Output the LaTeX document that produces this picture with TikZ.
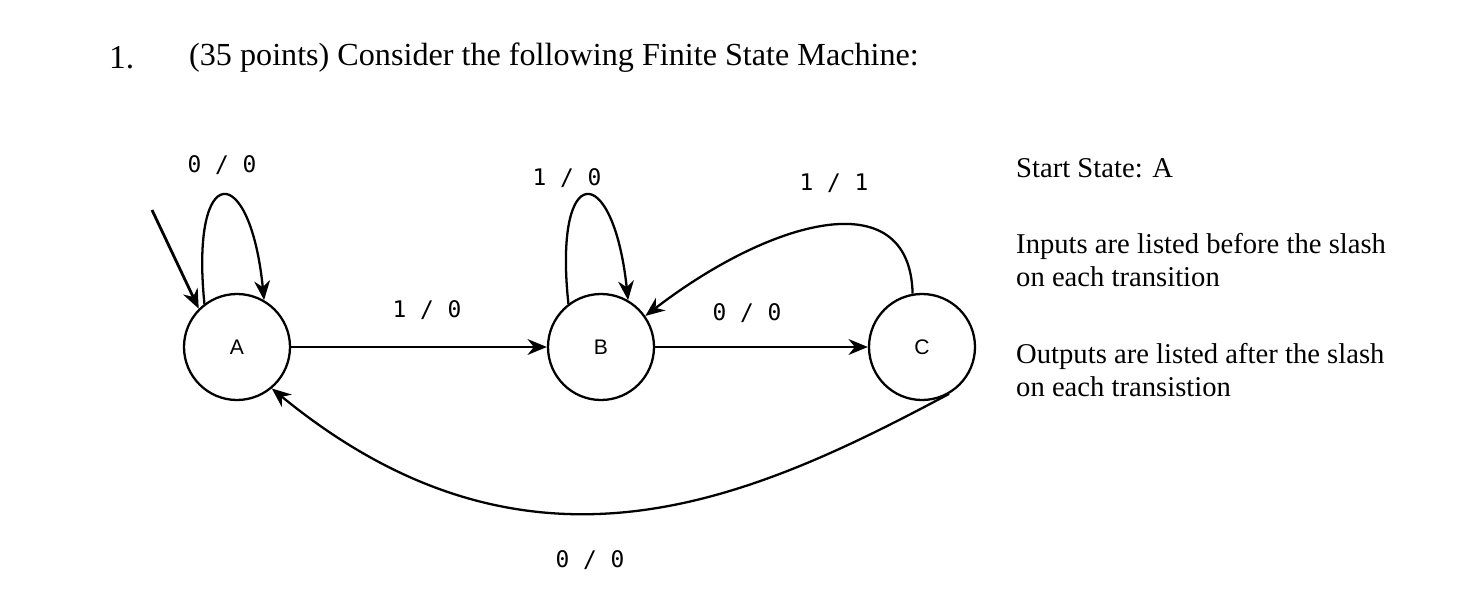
\documentclass[tikz,border=0pt]{standalone}
\usepackage{fontspec}
\setmainfont{Liberation Serif}
\newfontfamily\monof{DejaVu Sans Mono}
\newfontfamily\sansf{Liberation Sans}
\usetikzlibrary{arrows.meta}
\begin{document}
\begin{tikzpicture}[x=0.02cm,y=-0.02cm,
  st/.style={circle,draw,line width=1.3pt,minimum size=106*0.02cm,inner sep=0pt,font=\sansf\fontsize{12}{14}\selectfont},
  lab/.style={font=\monof\fontsize{13}{15}\selectfont},
  txt/.style={anchor=west,font=\fontsize{16.3}{18.5}\selectfont},
  tr/.style={line width=1.3pt,-{Stealth[length=11pt,width=9pt]}}]
\useasboundingbox (0,0) rectangle (1470,604);
\node[st] (A) at (237,347) {A};
\node[st] (B) at (601,347) {B};
\node[st] (C) at (922,347) {C};
\node[txt,font=\fontsize{19}{22}\selectfont] (n1) at (103,58) {1.};
\node[txt,font=\fontsize{18.3}{21}\selectfont] (ti) at (183,58) {(35 points) Consider the following Finite State Machine:};
\node[txt] (t1) at (1010,168) {Start State: A};
\node[txt,align=left] (t2) at (1010,260) {Inputs are listed before the slash\\on each transition};
\node[txt,align=left] (t3) at (1010,370) {Outputs are listed after the slash\\on each transistion};
\coordinate (s) at (152,210);
\draw[line width=1.6pt,-{Stealth[length=11pt,width=9pt]}] (s) -- (A.135);
\draw[tr] (A.127) .. controls (190,160) and (250,160) .. (A.60);
\draw[tr] (B.127) .. controls (553,160) and (613,160) .. (B.60);
\draw[tr] (A) -- (B);
\draw[tr] (B) -- (C);
\draw[tr] (C.100) .. controls (910,180) and (770,220) .. (B.35);
\draw[tr] (C.-60) .. controls (750,500) and (530,600) .. (A.-50);
\node[lab] (l1) at (222,165) {0 / 0};
\node[lab] (l2) at (567,178) {1 / 0};
\node[lab] (l3) at (834,183) {1 / 1};
\node[lab] (l4) at (427,310) {1 / 0};
\node[lab] (l5) at (747,313) {0 / 0};
\node[lab] (l6) at (590,560) {0 / 0};
\end{tikzpicture}
\end{document}
